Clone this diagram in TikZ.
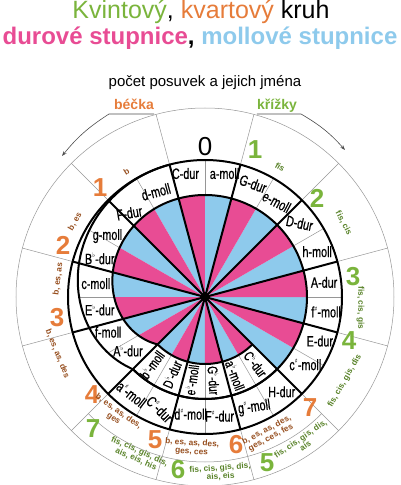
\documentclass[tikz,border=0pt]{standalone}
\usepackage{fontspec}
\setmainfont{Liberation Sans}
\newfontfamily\narrowfont[FakeStretch=0.72,FakeBold=0.6]{Liberation Sans}
\newfontfamily\symfont{DejaVu Sans}
\usetikzlibrary{arrows.meta}
\definecolor{kpink}{RGB}{232,76,148}
\definecolor{kblue}{RGB}{142,202,236}
\definecolor{kgreen}{RGB}{122,180,60}
\definecolor{korange}{RGB}{230,124,58}
\definecolor{dgreen}{RGB}{88,130,40}
\definecolor{dorange}{RGB}{150,78,30}
\definecolor{lgray}{RGB}{150,150,150}
\newcommand{\shp}{\raisebox{0.42em}{\symfont\fontsize{6.5}{6.5}\selectfont ♯}}
\newcommand{\flt}{\raisebox{0.42em}{\symfont\fontsize{6.5}{6.5}\selectfont ♭}}
\begin{document}
\begin{tikzpicture}[x=1pt,y=1pt,
  declare function={
    fu(\t)=min(max((\t-105)/120,0),1);
    fc(\t)=119.5-35*(0.5*fu(\t)^2+0.5*fu(\t)^3);
    rin(\t)=fc(\t)-17.5;
    rout(\t)=fc(\t)+17.5;
  },
  blk/.style={line width=2pt, black, line join=round},
  gr/.style={line width=0.5pt, lgray},
  key/.style={font=\narrowfont\fontsize{15}{15}\selectfont, inner sep=0pt},
  keyin/.style={font=\narrowfont\fontsize{14}{14}\selectfont, inner sep=0pt},
  num/.style={font=\bfseries\fontsize{26}{26}\selectfont, inner sep=0pt},
  acc/.style={font=\bfseries\fontsize{8.3}{8.6}\selectfont, inner sep=0pt, align=center},
  arr/.style={line width=0.6pt, black!70},
]
\useasboundingbox (-205,-188) rectangle (195,297);

% titles
\node[anchor=base, inner sep=0pt, font=\fontsize{25}{25}\selectfont] (t1) at (-4,278)
  {\textcolor{kgreen}{Kvintový}, \textcolor{korange}{kvartový} kruh};
\node[anchor=base, inner sep=0pt, font=\bfseries\fontsize{24}{24}\selectfont] (t2) at (-5,252)
  {\textcolor{kpink}{durové stupnice}, \textcolor{kblue}{mollové stupnice}};
\node[anchor=base, inner sep=0pt, font=\fontsize{15}{15}\selectfont] (t3) at (0,210)
  {počet posuvek a jejich jména};
\node[anchor=base, inner sep=0pt, font=\bfseries\fontsize{14}{14}\selectfont, text=korange] (becka) at (-71,187) {béčka};
\node[anchor=base, inner sep=0pt, font=\bfseries\fontsize{14}{14}\selectfont, text=kgreen] (krizky) at (72,187) {křížky};
\coordinate (bL) at (-96,183);
\coordinate (bLend) at (-143,141);
\coordinate (bR) at (96,183);
\coordinate (bRend) at (140,147);
\draw[arr, -{Stealth[length=5pt,width=3.5pt]}] (becka.south east |- bL) -- (bL) to[bend right=9] (bLend);
\draw[arr, -{Stealth[length=5pt,width=3.5pt]}] (krizky.south west |- bR) -- (bR) to[bend left=9] (bRend);

% coloured wedges
\foreach \k in {0,...,23}{
  \pgfmathsetmacro\a{-45+15*\k}
  \pgfmathsetmacro\b{\a+15}
  \pgfmathtruncatemacro\odd{mod(\k,2)}
  \ifnum\odd=1 \def\col{kpink}\else\def\col{kblue}\fi
  \fill[\col] (0,0) -- plot[domain=\a:\b,samples=8,variable=\t] (\t:{rin(\t)}) -- cycle;
}

% outer label ring
\draw[gr] (0,0) circle (189);
\foreach \a in {15,45,...,345} \draw[gr] (\a:137) -- (\a:189);
\draw[gr] (225:165) arc[start angle=225,end angle=315,radius=165];

% thin mid lines
\foreach \a in {90,60,30,0,-30,-60,-90,-120} \draw[gr] (\a:102) -- (\a:137);
\foreach \a in {120,150,180,210,240,270,300} \draw[gr] (\a:{rin(\a)}) -- (\a:{rout(\a)});

% black structure
\draw[blk] (0,0) circle (137);
\draw[blk] (-135:102) arc[start angle=-135,end angle=105,radius=102];
\draw[blk] plot[domain=105:315,samples=90,variable=\t] (\t:{rout(\t)});
\draw[blk] plot[domain=105:315,samples=90,variable=\t] (\t:{rin(\t)});
\foreach \a in {15,45,...,345} \draw[blk] (0,0) -- (\a:137);
\fill (0,0) circle (4.5);

% sharp keys ring
\node[key] (kC) at (99:125) {C-dur};
\node[key] (ka) at (81:125) {a-moll};
\node[key, rotate=-20] (kG) at (67:123) {G-dur};
\node[key, rotate=-28] (ke) at (53:119) {e-moll};
\node[key, rotate=-12] (kD) at (38:120) {D-dur};
\node[key] (kh) at (22:121) {h-moll};
\node[key] (kA) at (7:120) {A-dur};
\node[key] (kfis) at (-7:122) {f\shp-moll};
\node[key] (kE) at (-21:123) {E-dur};
\node[key] (kcis) at (-34:121) {c\shp-moll};
\node[key] (kH) at (-51:122) {H-dur};
\node[key, rotate=8] (kgis) at (-66:121) {g\shp-moll};
\node[key] (kFis) at (-83:120) {F\shp-dur};
\node[key] (kdis) at (-97:118) {d\shp-moll};
\node[key, rotate=-45] (kCis) at (-112:121) {C\shp-dur};
\node[key, rotate=-38] (kais) at (-127:122) {a\shp-moll};

% flat keys ring
\node[key, rotate=15] (kd) at (115:116) {d-moll};
\node[key, rotate=10] (kF) at (132:113) {F-dur};
\node[key] (kg) at (148:115) {g-moll};
\node[key] (kB) at (160:112) {B\flt-dur};
\node[key] (kc) at (173:110) {c-moll};
\node[key] (kEs) at (187:106) {E\flt-dur};
\node[key] (kf) at (200:103) {f-moll};
\node[key] (kAs) at (215:94) {A\flt-dur};
\node[keyin, rotate=54] (kb) at (232:86) {b\flt-moll};
\node[keyin, rotate=67] (kDes) at (247:84) {D\flt-dur};
\node[keyin, rotate=82] (kes) at (261:84) {e\flt-moll};
\node[keyin, rotate=-86] (kGes) at (276:84) {G\flt-dur};
\node[keyin, rotate=-69] (kas) at (291:84) {a\flt-moll};
\node[keyin, rotate=-53] (kCes) at (307:84) {C\flt-dur};

% numbers
\node[inner sep=0pt, font=\fontsize{26}{26}\selectfont] (n0) at (0,150) {0};
\node[num, text=kgreen] (g1) at (50,147) {1};
\node[num, text=kgreen] (g2) at (112,99) {2};
\node[num, text=kgreen] (g3) at (148,20) {3};
\node[num, text=kgreen] (g4) at (144,-44) {4};
\node[num, text=kgreen] (g5) at (62,-166) {5};
\node[num, text=kgreen] (g6) at (-27,-173) {6};
\node[num, text=kgreen] (g7) at (-112,-132) {7};
\node[num, text=korange] (o1) at (-105,109) {1};
\node[num, text=korange] (o2) at (-142,52) {2};
\node[num, text=korange] (o3) at (-148,-21) {3};
\node[num, text=korange] (o4) at (-113,-98) {4};
\node[num, text=korange] (o5) at (-50,-143) {5};
\node[num, text=korange] (o6) at (31,-148) {6};
\node[num, text=korange] (o7) at (105,-111) {7};

% accidentals: sharps
\node[acc, text=dgreen, rotate=-30] (ga1) at (60:150) {fis};
\node[acc, text=dgreen, rotate=-62] (ga2) at (28:157) {fis, cis};
\node[acc, text=dgreen, rotate=-90] (ga3) at (-4:156) {fis, cis, gis};
\node[acc, text=dgreen, rotate=60] (ga4) at (-31:163) {fis, cis, gis, dis};
\node[acc, text=dgreen, rotate=34] (ga5) at (-56:175) {fis, cis, gis, dis,\\ais};
\node[acc, text=dgreen, rotate=4] (ga6) at (-85:176) {fis, cis, gis, dis,\\ais, eis};
\node[acc, text=dgreen, rotate=-24] (ga7) at (247:172) {fis, cis, gis, dis,\\ais, eis, his};
% accidentals: flats
\node[acc, text=dorange, rotate=32] (oa1) at (122:148) {b};
\node[acc, text=dorange, rotate=60] (oa2) at (150:150) {b, es};
\node[acc, text=dorange, rotate=83] (oa3) at (173:148) {b, es, as};
\node[acc, text=dorange, rotate=-68] (oa4) at (201:158) {b, es, as, des};
\node[acc, text=dorange, rotate=-35] (oa5) at (233:148) {b, es, as, des,\\ges};
\node[acc, text=dorange, rotate=-4] (oa6) at (265:151) {b, es, as, des,\\ges, ces};
\node[acc, text=dorange, rotate=28] (oa7) at (-65:151) {b, es, as, des,\\ges, ces, fes};
\end{tikzpicture}
\end{document}
